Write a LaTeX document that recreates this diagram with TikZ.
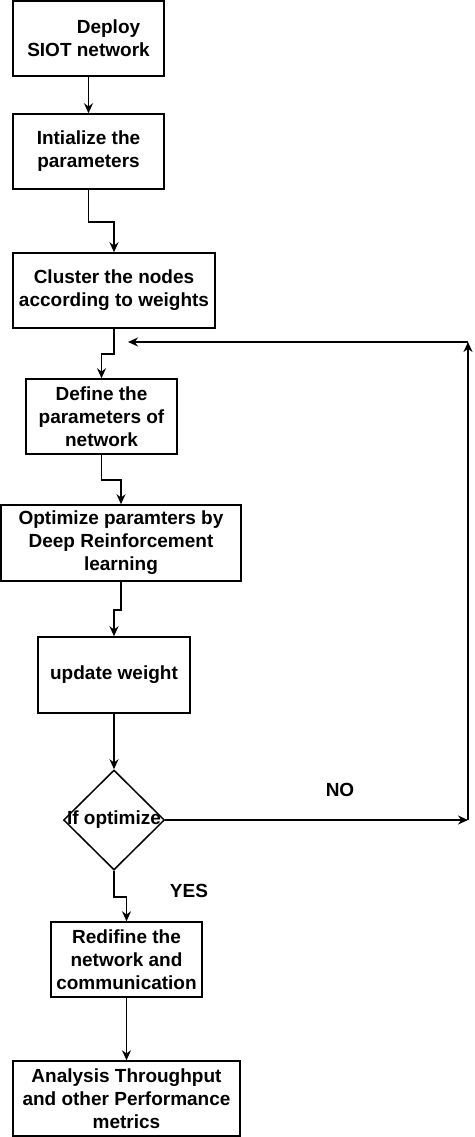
\documentclass[tikz,border=0pt]{standalone}
\usepackage{fontspec}
\setmainfont{Liberation Sans}
\usetikzlibrary{shapes.geometric,arrows.meta}
\begin{document}
\begin{tikzpicture}[x=1pt,y=-1pt,
  box/.style={draw,line width=1.5pt,align=center,inner sep=1pt,
    font=\bfseries\fontsize{19}{23}\selectfont},
  dec/.style={draw,line width=1.5pt,diamond,inner sep=0pt,minimum width=101pt,minimum height=100pt},
  lbl/.style={font=\bfseries\fontsize{19}{23}\selectfont},
  arr/.style={line width=1.5pt,-{Stealth[length=10pt,width=9pt]}}]
\useasboundingbox (0,0) rectangle (474,1137);
\node[box,minimum width=151pt,minimum height=75pt] (b1) at (88.5,38.5) {\hspace*{40pt}Deploy\\SIOT network};
\node[box,minimum width=151pt,minimum height=75pt] (b2) at (88.5,151.5) {Intialize the\\parameters};
\node[box,minimum width=202pt,minimum height=75pt] (b3) at (114,290.5) {Cluster the nodes\\according to weights};
\node[box,minimum width=151pt,minimum height=75pt] (b4) at (101.5,416.5) {Define the\\parameters of\\network};
\node[box,minimum width=240pt,minimum height=76pt] (b5) at (121,543) {Optimize paramters by\\Deep Reinforcement\\learning};
\node[box,minimum width=152pt,minimum height=76pt] (b6) at (114,675) {update weight};
\node[dec] (d) at (114,820) {};
\node[lbl] (dt) at (114,820) {If optimize};
\node[box,minimum width=151pt,minimum height=75pt] (b7) at (126.5,959.5) {Redifine the\\network and\\communication};
\node[box,minimum width=227pt,minimum height=75pt] (b8) at (126.5,1098.5) {Analysis Throughput\\and other Performance\\metrics};
\node[lbl] (no) at (340,790) {NO};
\node[lbl] (yes) at (189,891) {YES};
\coordinate (c1) at (468,820);
\coordinate (c2) at (468,342);
\coordinate (c3) at (128,342);
\draw[arr] (b1.south) -- (b2.north);
\draw[arr] (b2.south) -- ++(0,32) -| (b3.north);
\draw[arr] (b3.south) -- ++(0,25) -| (b4.north);
\draw[arr] (b4.south) -- ++(0,25) -| (b5.north);
\draw[arr] (b5.south) -- ++(0,28) -| (b6.north);
\draw[arr] (b6.south) -- (d.north);
\draw[arr] (d.south) -- ++(0,26) -| (b7.north);
\draw[arr] (b7.south) -- (b8.north);
\draw[arr] (d.east) -- (c1);
\draw[arr] (c1) -- (c2);
\draw[arr] (c2) -- (c3);
\end{tikzpicture}
\end{document}
